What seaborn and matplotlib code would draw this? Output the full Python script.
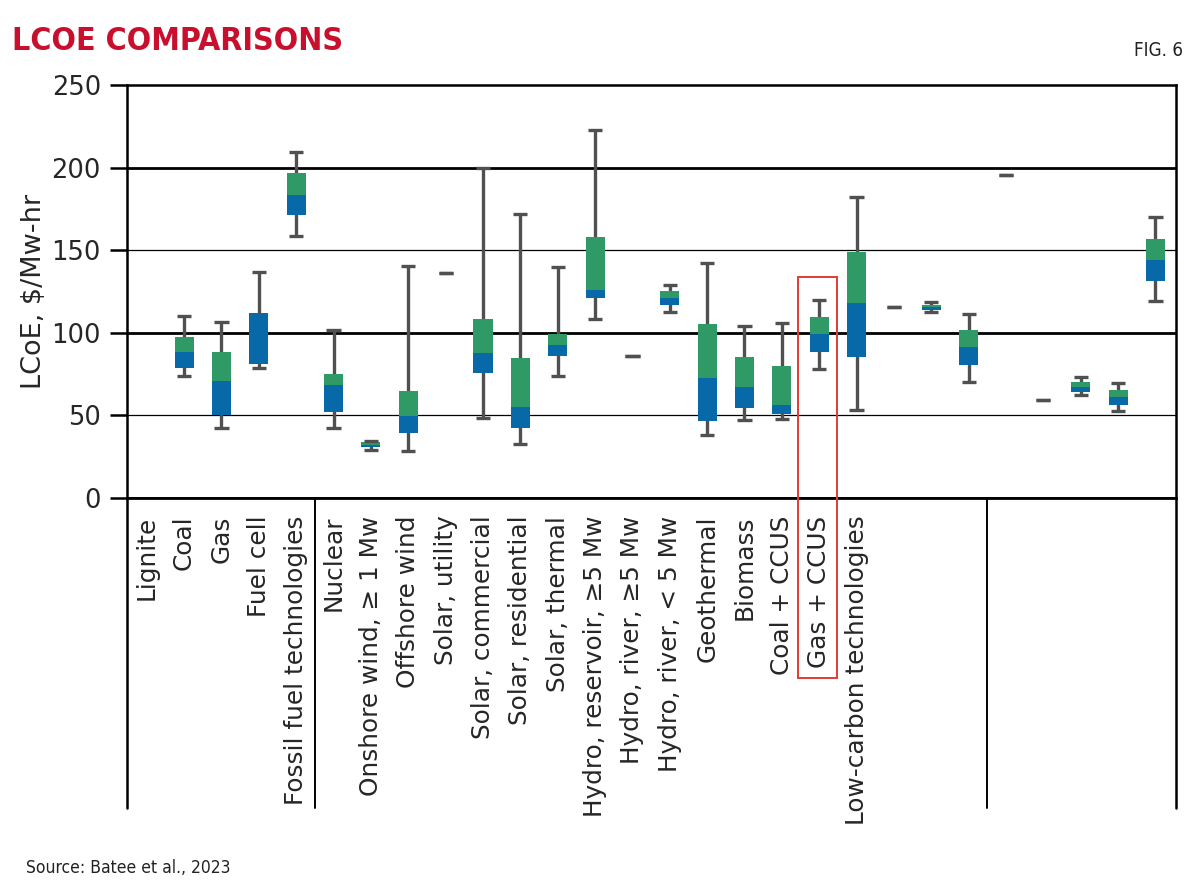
import matplotlib
matplotlib.use("Agg")
import matplotlib.pyplot as plt
import seaborn as sns
import pandas as pd
import numpy as np
from matplotlib.patches import Rectangle

# category keys (unique) and the labels shown under the axis
keys = ["Lignite", "Coal", "Gas", "Fuel cell", "Fossil fuel technologies",
        "Nuclear", "Onshore wind, \u2265 1 Mw", "Offshore wind", "Solar, utility",
        "Solar, commercial", "Solar, residential", "Solar, thermal",
        "Hydro, reservoir, \u22655 Mw", "Hydro, river, \u22655 Mw", "Hydro, river, < 5 Mw",
        "Geothermal", "Biomass", "Coal + CCUS", "Gas + CCUS", "Low-carbon technologies",
        "c20", "c21", "c22", "c23", "c24", "c25", "c26", "c27"]
tick_labels = keys[:20] + [""] * 8

# whisker low, box low (Q1), median, box high (Q3), whisker high  ($/Mw-hr)
whisker_low = [np.nan, 74, 42, 78.5, 158.5, 42.5, 29, 28.5, 136, 48, 32.5, 74, 108, 86,
               112.5, 38, 47, 47.5, 78, 53, 115.5, 112.5, 70, 195.5, 59, 62, 52.5, 119]
box_low = [np.nan, 78.5, 50, 81, 171, 52, 30.5, 39, 136, 75.5, 42, 86, 121, 86,
           117, 46.5, 54.5, 50.5, 88, 85.5, 115.5, 114, 80.5, 195.5, 59, 64, 56, 131.5]
median = [np.nan, 88, 71, 112, 183.5, 68.5, 32, 49.5, 136, 87.5, 55, 92.5, 126, 86,
          121, 72.5, 67, 56, 99, 118, 115.5, 115.5, 91.5, 195.5, 59, 67, 61, 144]
box_high = [np.nan, 97.5, 88.5, 112, 196.5, 75, 33.5, 64.5, 136, 108, 84.5, 99, 158, 86,
            125.5, 105.5, 85, 80, 109.5, 149, 115.5, 117, 101.5, 195.5, 59, 70, 65.5, 157]
whisker_high = [np.nan, 110, 106.5, 137, 209.5, 101.5, 34.5, 140.5, 136, 200, 172, 140, 223, 86,
                129, 142, 104, 106, 120, 182, 115.5, 118.5, 111.5, 195.5, 59, 73, 69.5, 170]

BLUE = "#0769A8"
GREEN = "#2F9A66"
WHISKER = "#505050"

df = pd.DataFrame({"key": keys, "wl": whisker_low, "q1": box_low, "med": median,
                   "q3": box_high, "wh": whisker_high}).dropna()
df["lower"] = df["med"] - df["q1"]
df["upper"] = df["q3"] - df["med"]
df["pos"] = df["key"].map(keys.index)

sns.set_theme(style="white")
plt.rcParams["font.family"] = ["DejaVu Sans"]

fig = plt.figure(figsize=(12, 8.84), dpi=100)
ax = fig.add_axes([0.1061, 0.437, 0.8739, 0.4667])

sns.barplot(data=df, x="key", y="lower", order=keys, bottom=df["q1"].to_numpy(),
            color=BLUE, saturation=1, width=0.51, errorbar=None, linewidth=0,
            zorder=3, ax=ax)
sns.barplot(data=df, x="key", y="upper", order=keys, bottom=df["med"].to_numpy(),
            color=GREEN, saturation=1, width=0.51, errorbar=None, linewidth=0,
            zorder=3, ax=ax)

# whiskers and caps
ax.vlines(df["pos"], df["wl"], df["wh"], color=WHISKER, lw=2.4, zorder=2)
for col in ["wl", "wh"]:
    ax.hlines(df[col], df["pos"] - 0.19, df["pos"] + 0.19, color=WHISKER, lw=2.4, zorder=4)

# horizontal rules
for v, lw in zip([0, 50, 100, 150, 200], [2.0, 0.9, 2.0, 0.9, 2.0]):
    ax.axhline(v, color="black", lw=lw, zorder=1)

ax.set_xlim(-0.52, 27.55)
ax.set_ylim(0, 250)
ax.set_yticks([0, 50, 100, 150, 200, 250])
ax.set_xticks(range(len(keys)))
ax.set_xticklabels(tick_labels, rotation=90, ha="center", va="top", fontsize=17.8)
ax.tick_params(axis="x", length=0, pad=13)
ax.tick_params(axis="y", length=12, width=1.8, pad=7, labelsize=18.5, direction="out",
               left=True, color="black")
ax.set_xlabel("")
ax.set_ylabel("LCoE, $/Mw-hr", fontsize=19.5, labelpad=3)

for side in ["left", "right", "top", "bottom"]:
    ax.spines[side].set_visible(True)
    ax.spines[side].set_color("black")
    ax.spines[side].set_linewidth(1.8)
ax.spines["bottom"].set_linewidth(2.0)

# frame lines continuing down through the label area
depth = -0.752
ax.plot([0, 0], [0, depth], transform=ax.transAxes, color="black", lw=1.8, clip_on=False)
ax.plot([1, 1], [0, depth], transform=ax.transAxes, color="black", lw=1.8, clip_on=False)
trans = ax.get_xaxis_transform()
for sep in [4.5, 22.5]:
    ax.plot([sep, sep], [0, depth], transform=trans, color="black", lw=1.4, clip_on=False)

# highlight box around Gas + CCUS
ax.add_patch(Rectangle((17.43, -109.3), 1.04, 243.1, fill=False, ec="#E23B36",
                       lw=1.4, clip_on=False, zorder=6))

cond = ["Liberation Sans Narrow", "DejaVu Sans"]
fig.text(0.01, 0.944, "LCOE COMPARISONS", color="#C8102E", fontsize=23,
         fontweight="bold", family=cond, fontstretch="condensed", ha="left", va="baseline")
fig.text(0.986, 0.937, "FIG. 6", fontsize=13.5, family=cond, fontstretch="condensed",
         ha="right", va="baseline", color="#222222")
fig.text(0.022, 0.008, "Source: Batee et al., 2023", fontsize=12.5, family=cond,
         fontstretch="condensed", ha="left", va="bottom", color="#222222")

fig.savefig("out.png", dpi=100)
